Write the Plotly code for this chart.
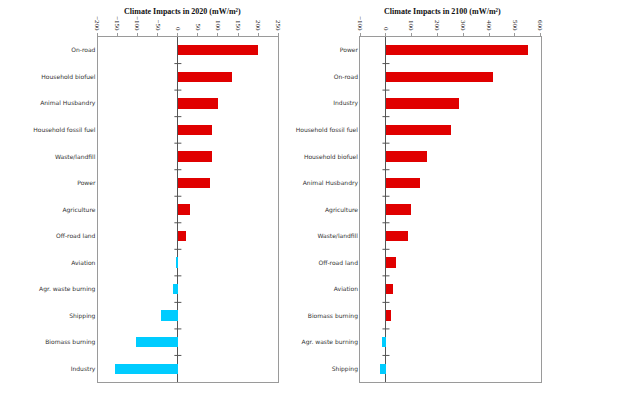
import plotly.graph_objects as go

cats_2020 = ["On-road", "Household biofuel", "Animal Husbandry", "Household fossil fuel",
             "Waste/landfill", "Power", "Agriculture", "Off-road land", "Aviation",
             "Agr. waste burning", "Shipping", "Biomass burning", "Industry"]
vals_2020 = [199, 133, 98, 84, 84, 79, 29, 20, -6, -14, -43, -106, -158]

cats_2100 = ["Power", "On-road", "Industry", "Household fossil fuel", "Household biofuel",
             "Animal Husbandry", "Agriculture", "Waste/landfill", "Off-road land", "Aviation",
             "Biomass burning", "Agr. waste burning", "Shipping"]
vals_2100 = [553, 417, 283, 254, 158, 131, 98, 87, 38, 27, 20, -14, -23]

ticks_2020 = [-200, -150, -100, -50, 0, 50, 100, 150, 200, 250]
ticks_2100 = [-100, 0, 100, 200, 300, 400, 500, 600]

title_2020 = "Climate Impacts in 2020 (mW/m²)"
title_2100 = "Climate Impacts in 2100 (mW/m²)"

RED = "#E00000"
CYAN = "#00CCFF"

fig = go.Figure()

def add_panel(cats, vals, xa, ya):
    idx = list(range(len(cats)))
    fig.add_trace(go.Bar(
        x=vals, y=idx, orientation="h", width=0.39,
        marker=dict(color=[RED if v >= 0 else CYAN for v in vals], line=dict(width=0)),
        xaxis=xa, yaxis=ya, showlegend=False, hoverinfo="x+text", text=cats,
        textposition="none"))
    fig.add_trace(go.Scatter(
        x=[0] * (len(cats) - 1), y=[i + 0.5 for i in idx[:-1]], mode="markers",
        marker=dict(symbol="line-ew", size=5, line=dict(width=1, color="#555555")),
        xaxis=xa, yaxis=ya, showlegend=False, hoverinfo="skip"))

add_panel(cats_2020, vals_2020, "x", "y")
add_panel(cats_2100, vals_2100, "x2", "y2")

xcommon = dict(side="top", showline=True, mirror=True, linecolor="#9a9a9a", linewidth=1,
               showgrid=False, zeroline=True, zerolinecolor="#555555", zerolinewidth=1,
               ticks="outside", ticklen=3, tickcolor="#9a9a9a", tickangle=90,
               tickfont=dict(family="Liberation Serif", size=7, color="#222222"))
ycommon = dict(showline=True, mirror=True, linecolor="#9a9a9a", linewidth=1,
               showgrid=False, zeroline=False, ticks="", range=[12.5, -0.5],
               tickfont=dict(family="DejaVu Sans", size=6, color="#333333"))

ydom = [0.0305, 0.906]
fig.update_layout(
    width=620, height=394, margin=dict(l=0, r=0, t=0, b=0),
    paper_bgcolor="white", plot_bgcolor="white", bargap=0,
    xaxis=dict(domain=[0.153, 0.448], range=[-200, 250], tickvals=ticks_2020, anchor="y", **xcommon),
    yaxis=dict(domain=ydom, anchor="x", tickvals=list(range(len(cats_2020))), ticktext=cats_2020, **ycommon),
    xaxis2=dict(domain=[0.582, 0.877], range=[-100, 600], tickvals=ticks_2100, anchor="y2", **xcommon),
    yaxis2=dict(domain=ydom, anchor="x2", tickvals=list(range(len(cats_2100))), ticktext=cats_2100, **ycommon),
    annotations=[
        dict(text="<b>" + title_2020 + "</b>", x=0.292, y=0.972, xref="paper", yref="paper",
             xanchor="center", yanchor="middle", showarrow=False,
             font=dict(family="Liberation Serif", size=8, color="#111111")),
        dict(text="<b>" + title_2100 + "</b>", x=0.716, y=0.972, xref="paper", yref="paper",
             xanchor="center", yanchor="middle", showarrow=False,
             font=dict(family="Liberation Serif", size=8, color="#111111")),
    ],
)

fig.write_html("out.html", config={"displayModeBar": False},
               post_script="document.body.style.margin='0';")
